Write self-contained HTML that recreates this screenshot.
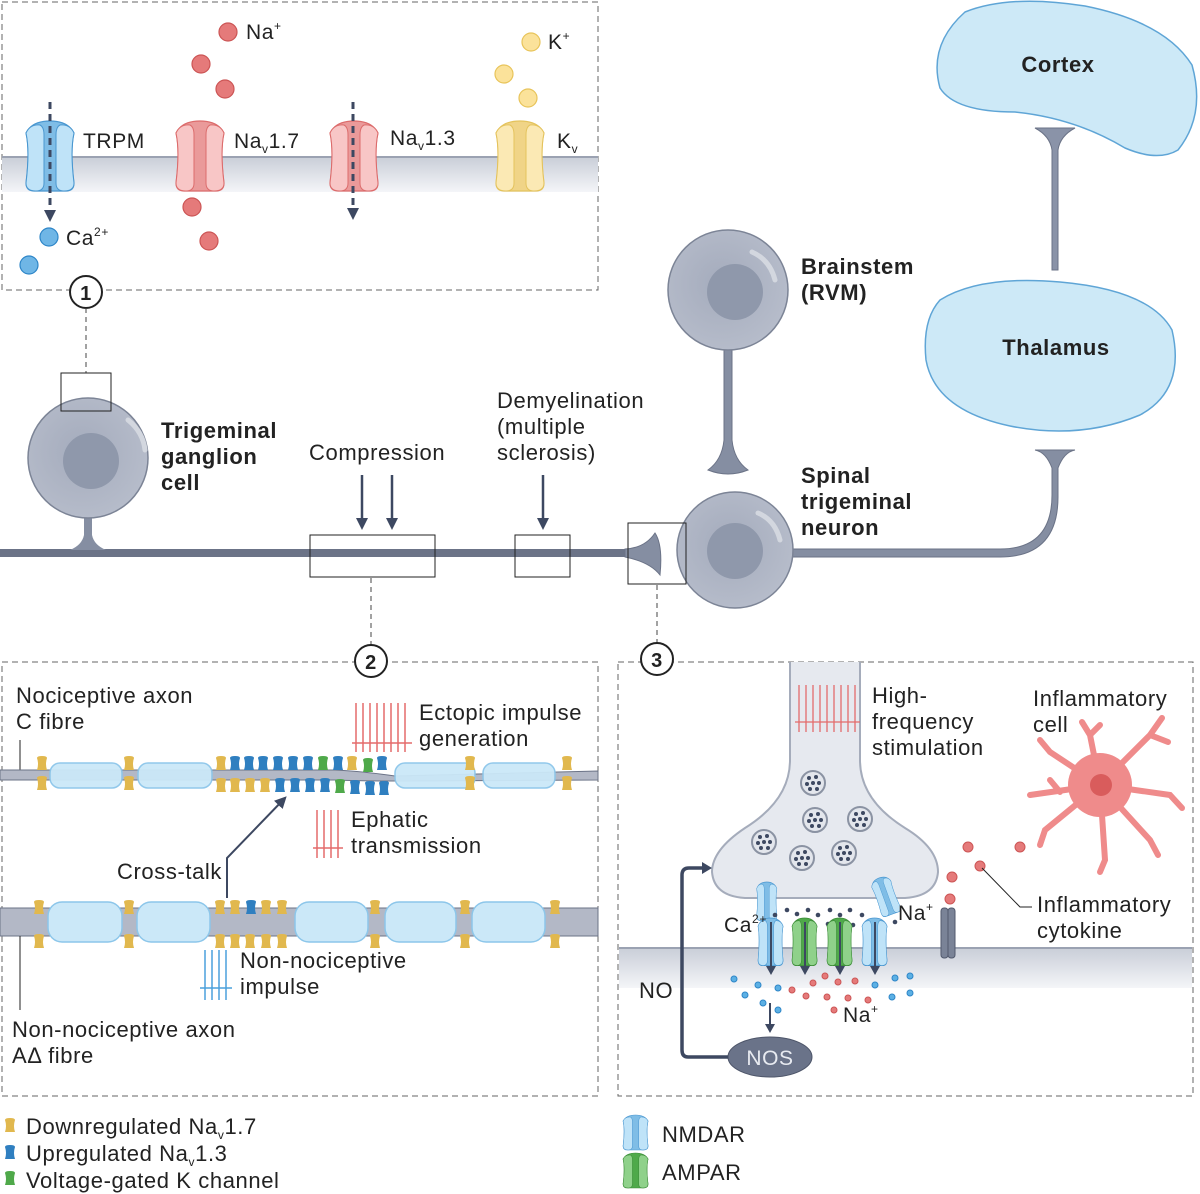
<!DOCTYPE html>
<html><head><meta charset="utf-8"><style>
html,body{margin:0;padding:0;background:#fff}
svg{display:block}
text{font-family:"Liberation Sans",sans-serif;fill:#222;letter-spacing:0.6px}
.b{font-weight:bold}
</style></head><body>
<svg width="1200" height="1194" viewBox="0 0 1200 1194" xmlns="http://www.w3.org/2000/svg">
<defs>
<linearGradient id="mem" x1="0" y1="0" x2="0" y2="1"><stop offset="0" stop-color="#c9ced8"/><stop offset="1" stop-color="#f4f5f8"/></linearGradient>
<radialGradient id="cell" cx="0.45" cy="0.45" r="0.6"><stop offset="0" stop-color="#a4abbc"/><stop offset="1" stop-color="#b7bdcb"/></radialGradient>
<marker id="ah" viewBox="0 0 10 10" refX="8" refY="5" markerWidth="6" markerHeight="6" orient="auto"><path d="M0,0 L10,5 L0,10 z" fill="#3d4861"/></marker>
<g id="chB"><path d="M4,12 Q10,0 28,0 Q46,0 52,12 Q48,30 52,62 Q52,70 44,70 L12,70 Q4,70 4,62 Q8,30 4,12Z" fill="#7fbde6" stroke="#4a97d0" stroke-width="1.2"/><path d="M4,12 Q8,3 18,4 Q22,6 22,14 L22,62 Q22,70 14,70 Q4,70 4,62 Q8,30 4,12Z M52,12 Q48,3 38,4 Q34,6 34,14 L34,62 Q34,70 42,70 Q52,70 52,62 Q48,30 52,12Z" fill="#bfe3f8" stroke="#4a97d0" stroke-width="1"/></g>
<g id="chR"><path d="M4,12 Q10,0 28,0 Q46,0 52,12 Q48,30 52,62 Q52,70 44,70 L12,70 Q4,70 4,62 Q8,30 4,12Z" fill="#ea9a9a" stroke="#dc6c6c" stroke-width="1.2"/><path d="M4,12 Q8,3 18,4 Q22,6 22,14 L22,62 Q22,70 14,70 Q4,70 4,62 Q8,30 4,12Z M52,12 Q48,3 38,4 Q34,6 34,14 L34,62 Q34,70 42,70 Q52,70 52,62 Q48,30 52,12Z" fill="#f8c6c6" stroke="#dc6c6c" stroke-width="1"/></g>
<g id="chY"><path d="M4,12 Q10,0 28,0 Q46,0 52,12 Q48,30 52,62 Q52,70 44,70 L12,70 Q4,70 4,62 Q8,30 4,12Z" fill="#f0d487" stroke="#e4c35d" stroke-width="1.2"/><path d="M4,12 Q8,3 18,4 Q22,6 22,14 L22,62 Q22,70 14,70 Q4,70 4,62 Q8,30 4,12Z M52,12 Q48,3 38,4 Q34,6 34,14 L34,62 Q34,70 42,70 Q52,70 52,62 Q48,30 52,12Z" fill="#fbe9b4" stroke="#e4c35d" stroke-width="1"/></g>
<g id="chG"><path d="M4,12 Q10,0 28,0 Q46,0 52,12 Q48,30 52,62 Q52,70 44,70 L12,70 Q4,70 4,62 Q8,30 4,12Z" fill="#4fa94a" stroke="#3b8c37" stroke-width="1.2"/><path d="M4,12 Q8,3 18,4 Q22,6 22,14 L22,62 Q22,70 14,70 Q4,70 4,62 Q8,30 4,12Z M52,12 Q48,3 38,4 Q34,6 34,14 L34,62 Q34,70 42,70 Q52,70 52,62 Q48,30 52,12Z" fill="#8fd18a" stroke="#3b8c37" stroke-width="1"/></g>
<path id="sm" d="M-5,0 Q-5,-2 0,-2 Q5,-2 5,0 Q3,6 5,12 L-5,12 Q-3,6 -5,0Z"/>
<g id="ves"><circle r="12" fill="#e3e6ec" stroke="#8b93a3" stroke-width="2"/><g fill="#3d4861"><circle cx="-4" cy="-5" r="2"/><circle cx="3" cy="-6" r="2"/><circle cx="-6" cy="1" r="2"/><circle cx="0" cy="0" r="2"/><circle cx="6" cy="0" r="2"/><circle cx="-3" cy="6" r="2"/><circle cx="4" cy="6" r="2"/></g></g>
</defs>

<!-- Box 1 -->
<rect x="2" y="2" width="596" height="288" fill="none" stroke="#666" stroke-dasharray="6,4" stroke-width="1"/>
<rect x="2" y="157" width="596" height="35" fill="url(#mem)"/>
<line x1="2" y1="157" x2="598" y2="157" stroke="#9ba2b2" stroke-width="2"/>
<use href="#chB" x="22" y="121"/>
<use href="#chR" x="172" y="121"/>
<use href="#chR" x="326" y="121"/>
<use href="#chY" x="492" y="121"/>
<line x1="50" y1="102" x2="50" y2="210" stroke="#3d4861" stroke-width="3" stroke-dasharray="7,5"/>
<path d="M44,210 L56,210 L50,222Z" fill="#3d4861"/>
<line x1="353" y1="102" x2="353" y2="210" stroke="#3d4861" stroke-width="3" stroke-dasharray="7,5"/>
<path d="M347,208 L359,208 L353,220Z" fill="#3d4861"/>
<g fill="#e57a7a" stroke="#cc5555" stroke-width="1.2"><circle cx="228" cy="32" r="9"/><circle cx="201" cy="64" r="9"/><circle cx="225" cy="89" r="9"/><circle cx="192" cy="207" r="9"/><circle cx="209" cy="241" r="9"/></g>
<g fill="#fbe29a" stroke="#e8c45a" stroke-width="1.2"><circle cx="531" cy="42" r="9"/><circle cx="504" cy="74" r="9"/><circle cx="528" cy="98" r="9"/></g>
<g fill="#6fb6e6" stroke="#2e86c8" stroke-width="1.2"><circle cx="49" cy="237" r="9"/><circle cx="29" cy="265" r="9"/></g>
<text x="246" y="39" font-size="21">Na<tspan font-size="12" dy="-9">+</tspan></text>
<text x="548" y="49" font-size="21">K<tspan font-size="12" dy="-9">+</tspan></text>
<text x="66" y="245" font-size="21">Ca<tspan font-size="12" dy="-9">2+</tspan></text>
<text x="83" y="148" font-size="21">TRPM</text>
<text x="234" y="148" font-size="21">Na<tspan font-size="12" dy="5">v</tspan><tspan dy="-5">1.7</tspan></text>
<text x="390" y="145" font-size="21">Na<tspan font-size="12" dy="5">v</tspan><tspan dy="-5">1.3</tspan></text>
<text x="557" y="148" font-size="21">K<tspan font-size="12" dy="5">v</tspan></text>
<circle cx="86" cy="292" r="16" fill="#fff" stroke="#222" stroke-width="2"/>
<text x="86" y="300" font-size="20" class="b" text-anchor="middle">1</text>
<line x1="86" y1="308" x2="86" y2="373" stroke="#444" stroke-dasharray="5,4"/>

<!-- Cortex / Thalamus -->
<path d="M965,12 Q1010,-6 1085,6 Q1165,22 1192,65 Q1206,115 1178,150 Q1158,162 1125,148 Q1075,118 1015,112 Q955,112 940,88 Q928,45 965,12Z" fill="#cde9f7" stroke="#5fa5d6" stroke-width="1.5"/>
<text x="1058" y="72" font-size="22" class="b" text-anchor="middle">Cortex</text>
<path d="M1035,128 L1075,128 Q1060,136 1058,150 L1058,270 L1052,270 L1052,150 Q1050,136 1035,128Z" fill="#8a93a8" stroke="#6b7387"/>
<path d="M940,300 Q980,275 1060,282 Q1150,290 1172,330 Q1186,390 1140,415 Q1080,440 1010,426 Q935,410 926,360 Q922,320 940,300Z" fill="#cde9f7" stroke="#5fa5d6" stroke-width="1.5"/>
<text x="1056" y="355" font-size="22" class="b" text-anchor="middle">Thalamus</text>

<!-- Axon -->
<rect x="0" y="549" width="645" height="8" fill="#6b7387"/>
<path d="M625,549 Q645,548 655,533 Q663,545 660,575 Q650,562 625,557Z" fill="#858ea2" stroke="#6b7387"/>
<path d="M790,549 L1000,549 Q1052,549 1052,495 L1052,468 Q1046,452 1035,450 L1075,450 Q1064,452 1058,468 L1058,497 Q1058,557 1000,557 L790,557Z" fill="#858ea2" stroke="#6b7387"/>
<!-- Trigeminal cell -->
<path d="M84,510 L84,535 Q82,545 70,550 L106,550 Q94,545 92,535 L92,510Z" fill="#858ea2"/>
<circle cx="88" cy="458" r="60" fill="url(#cell)" stroke="#7c8496" stroke-width="1.5"/>
<circle cx="91" cy="461" r="28" fill="#8f98ab"/>
<path d="M128,420 Q143,432 145,450" stroke="#d3d7df" stroke-width="5" fill="none" stroke-linecap="round"/>
<text class="b" font-size="22"><tspan x="161" y="438">Trigeminal</tspan><tspan x="161" y="464">ganglion</tspan><tspan x="161" y="490">cell</tspan></text>
<!-- Brainstem -->
<path d="M724,340 L724,440 Q722,460 708,470 Q728,478 748,470 Q734,460 732,440 L732,340Z" fill="#858ea2" stroke="#6b7387"/>
<circle cx="728" cy="290" r="60" fill="url(#cell)" stroke="#7c8496" stroke-width="1.5"/>
<circle cx="735" cy="292" r="28" fill="#8f98ab"/>
<path d="M752,252 Q770,260 775,280" stroke="#d3d7df" stroke-width="5" fill="none" stroke-linecap="round"/>
<text class="b" font-size="22"><tspan x="801" y="274">Brainstem</tspan><tspan x="801" y="300">(RVM)</tspan></text>
<!-- Spinal -->
<circle cx="735" cy="550" r="58" fill="url(#cell)" stroke="#7c8496" stroke-width="1.5"/>
<circle cx="735" cy="551" r="28" fill="#8f98ab"/>
<path d="M758,513 Q775,520 780,540" stroke="#d3d7df" stroke-width="5" fill="none" stroke-linecap="round"/>
<text class="b" font-size="22"><tspan x="801" y="483">Spinal</tspan><tspan x="801" y="509">trigeminal</tspan><tspan x="801" y="535">neuron</tspan></text>

<g fill="none" stroke="#222" stroke-width="1"><rect x="61" y="373" width="50" height="38"/><rect x="310" y="535" width="125" height="42"/><rect x="515" y="535" width="55" height="42"/><rect x="628" y="523" width="58" height="61"/></g>
<text x="309" y="460" font-size="22">Compression</text>
<text font-size="22"><tspan x="497" y="408">Demyelination</tspan><tspan x="497" y="434">(multiple</tspan><tspan x="497" y="460">sclerosis)</tspan></text>
<g stroke="#3d4861" stroke-width="2.5"><line x1="362" y1="475" x2="362" y2="520"/><line x1="392" y1="475" x2="392" y2="520"/><line x1="543" y1="475" x2="543" y2="520"/></g>
<g fill="#3d4861"><path d="M356,518 L368,518 L362,530Z"/><path d="M386,518 L398,518 L392,530Z"/><path d="M537,518 L549,518 L543,530Z"/></g>
<line x1="371" y1="578" x2="371" y2="645" stroke="#444" stroke-dasharray="5,4"/>
<line x1="657" y1="585" x2="657" y2="643" stroke="#444" stroke-dasharray="5,4"/>

<!-- Box 2 -->
<rect x="2" y="662" width="596" height="434" fill="none" stroke="#666" stroke-dasharray="6,4"/>
<circle cx="371" cy="661" r="16" fill="#fff" stroke="#222" stroke-width="2"/>
<text x="371" y="669" font-size="20" class="b" text-anchor="middle">2</text>
<text font-size="22"><tspan x="16" y="703">Nociceptive axon</tspan><tspan x="16" y="729">C fibre</tspan></text>
<line x1="20" y1="740" x2="20" y2="770" stroke="#222"/>
<path d="M0,770 L215,770 L335,770 Q360,771 395,776 L598,771 L598,780 L395,781 Q360,781 335,780 L0,780Z" fill="#b3b8c6" stroke="#6b7387"/>
<g fill="#cbe8f8" stroke="#8cc6ea" stroke-width="1.5" opacity="0.95"><rect x="50" y="763" width="72" height="25" rx="10"/><rect x="138" y="763" width="74" height="25" rx="10"/><rect x="395" y="763" width="80" height="25" rx="10"/><rect x="483" y="763" width="72" height="25" rx="10"/></g>
<g fill="#e1b84e">
<use href="#sm" x="42" y="758"/><use href="#sm" x="42" y="778"/>
<use href="#sm" x="129" y="758"/><use href="#sm" x="129" y="778"/>
<use href="#sm" x="221" y="758"/><use href="#sm" x="221" y="780"/>
<use href="#sm" x="352" y="758"/>
<use href="#sm" x="470" y="758"/><use href="#sm" x="470" y="778"/>
<use href="#sm" x="567" y="758"/><use href="#sm" x="567" y="778"/>
<use href="#sm" x="235" y="780"/><use href="#sm" x="250" y="780"/><use href="#sm" x="265" y="780"/>
</g>
<g fill="#2f7fc0">
<use href="#sm" x="235" y="758"/><use href="#sm" x="249" y="758"/><use href="#sm" x="263" y="758"/><use href="#sm" x="278" y="758"/><use href="#sm" x="293" y="758"/><use href="#sm" x="308" y="758"/><use href="#sm" x="338" y="758"/><use href="#sm" x="382" y="758"/>
<use href="#sm" x="280" y="780"/><use href="#sm" x="295" y="780"/><use href="#sm" x="310" y="780"/><use href="#sm" x="325" y="780"/><use href="#sm" x="355" y="782"/><use href="#sm" x="370" y="783"/><use href="#sm" x="384" y="783"/>
</g>
<g fill="#4fa94a"><use href="#sm" x="323" y="758"/><use href="#sm" x="368" y="760"/><use href="#sm" x="340" y="781"/></g>
<path d="M227,898 L227,858 L285,798" stroke="#3d4861" stroke-width="2" fill="none" marker-end="url(#ah)"/>
<text x="117" y="879" font-size="22">Cross-talk</text>
<g stroke="#e46b6b" stroke-width="1.5">
<line x1="356" y1="703" x2="356" y2="752"/><line x1="363" y1="703" x2="363" y2="752"/><line x1="370" y1="703" x2="370" y2="752"/><line x1="377" y1="703" x2="377" y2="752"/><line x1="384" y1="703" x2="384" y2="752"/><line x1="391" y1="703" x2="391" y2="752"/><line x1="398" y1="703" x2="398" y2="752"/><line x1="405" y1="703" x2="405" y2="752"/><line x1="352" y1="743" x2="412" y2="743"/>
<line x1="317" y1="810" x2="317" y2="858"/><line x1="324" y1="810" x2="324" y2="858"/><line x1="331" y1="810" x2="331" y2="858"/><line x1="338" y1="810" x2="338" y2="858"/><line x1="313" y1="848" x2="343" y2="848"/>
</g>
<text font-size="22"><tspan x="419" y="720">Ectopic impulse</tspan><tspan x="419" y="746">generation</tspan></text>
<text font-size="22"><tspan x="351" y="827">Ephatic</tspan><tspan x="351" y="853">transmission</tspan></text>
<rect x="0" y="908" width="598" height="28" fill="#b3b8c6" stroke="#6b7387"/>
<g fill="#cbe8f8" stroke="#8cc6ea" stroke-width="1.5"><rect x="48" y="902" width="74" height="40" rx="14"/><rect x="137" y="902" width="73" height="40" rx="14"/><rect x="295" y="902" width="73" height="40" rx="14"/><rect x="385" y="902" width="71" height="40" rx="14"/><rect x="472" y="902" width="73" height="40" rx="14"/></g>
<g fill="#e1b84e">
<use href="#sm" x="39" y="902"/><use href="#sm" x="39" y="936"/><use href="#sm" x="129" y="902"/><use href="#sm" x="129" y="936"/>
<use href="#sm" x="220" y="902"/><use href="#sm" x="235" y="902"/><use href="#sm" x="266" y="902"/><use href="#sm" x="282" y="902"/>
<use href="#sm" x="220" y="936"/><use href="#sm" x="235" y="936"/><use href="#sm" x="250" y="936"/><use href="#sm" x="266" y="936"/><use href="#sm" x="282" y="936"/>
<use href="#sm" x="375" y="902"/><use href="#sm" x="375" y="936"/><use href="#sm" x="465" y="902"/><use href="#sm" x="465" y="936"/><use href="#sm" x="555" y="902"/><use href="#sm" x="555" y="936"/>
</g>
<use href="#sm" x="251" y="902" fill="#2f7fc0"/>
<g stroke="#4aa0dc" stroke-width="1.5"><line x1="205" y1="950" x2="205" y2="1000"/><line x1="212" y1="950" x2="212" y2="1000"/><line x1="219" y1="950" x2="219" y2="1000"/><line x1="226" y1="950" x2="226" y2="1000"/><line x1="200" y1="988" x2="232" y2="988"/></g>
<text font-size="22"><tspan x="240" y="968">Non-nociceptive</tspan><tspan x="240" y="994">impulse</tspan></text>
<line x1="20" y1="936" x2="20" y2="1010" stroke="#222"/>
<text font-size="22"><tspan x="12" y="1037">Non-nociceptive axon</tspan><tspan x="12" y="1063">AΔ fibre</tspan></text>

<!-- Box 3 -->
<rect x="618" y="662" width="575" height="434" fill="none" stroke="#666" stroke-dasharray="6,4"/>
<rect x="619" y="948" width="573" height="40" fill="url(#mem)"/>
<line x1="619" y1="948" x2="1192" y2="948" stroke="#9ba2b2" stroke-width="2"/>
<path d="M790,662 L790,760 Q790,800 745,828 Q712,850 712,872 Q714,896 745,898 L905,898 Q936,896 938,872 Q938,848 905,828 Q860,800 860,760 L860,662" fill="#e6e9ef" stroke="#a5acbb" stroke-width="2"/>
<circle cx="657" cy="659" r="16" fill="#fff" stroke="#222" stroke-width="2"/>
<text x="657" y="667" font-size="20" class="b" text-anchor="middle">3</text>
<g stroke="#e46b6b" stroke-width="1.3"><line x1="799" y1="685" x2="799" y2="732"/><line x1="806" y1="685" x2="806" y2="732"/><line x1="813" y1="685" x2="813" y2="732"/><line x1="820" y1="685" x2="820" y2="732"/><line x1="827" y1="685" x2="827" y2="732"/><line x1="834" y1="685" x2="834" y2="732"/><line x1="841" y1="685" x2="841" y2="732"/><line x1="848" y1="685" x2="848" y2="732"/><line x1="855" y1="685" x2="855" y2="732"/><line x1="795" y1="722" x2="860" y2="722"/></g>
<text font-size="22"><tspan x="872" y="703">High-</tspan><tspan x="872" y="729">frequency</tspan><tspan x="872" y="755">stimulation</tspan></text>
<use href="#ves" x="813" y="783"/><use href="#ves" x="815" y="820"/><use href="#ves" x="860" y="819"/><use href="#ves" x="764" y="842"/><use href="#ves" x="802" y="858"/><use href="#ves" x="844" y="853"/>
<g transform="translate(755,882) scale(0.42,0.55)"><use href="#chB"/></g>
<g transform="translate(868,882) rotate(-20) scale(0.42,0.55)"><use href="#chB"/></g>
<g fill="#3d4861"><circle cx="775" cy="915" r="2.3"/><circle cx="787" cy="910" r="2.3"/><circle cx="797" cy="914" r="2.3"/><circle cx="808" cy="910" r="2.3"/><circle cx="818" cy="915" r="2.3"/><circle cx="830" cy="910" r="2.3"/><circle cx="840" cy="915" r="2.3"/><circle cx="850" cy="910" r="2.3"/><circle cx="862" cy="915" r="2.3"/><circle cx="797" cy="924" r="2.3"/><circle cx="828" cy="924" r="2.3"/><circle cx="853" cy="925" r="2.3"/><circle cx="895" cy="922" r="2.3"/><circle cx="870" cy="928" r="2.3"/></g>
<g transform="translate(756,918) scale(0.52,0.68)"><use href="#chB"/></g>
<g transform="translate(790,918) scale(0.52,0.68)"><use href="#chG"/></g>
<g transform="translate(825,918) scale(0.52,0.68)"><use href="#chG"/></g>
<g transform="translate(860,918) scale(0.52,0.68)"><use href="#chB"/></g>
<g stroke="#3d4861" stroke-width="2"><line x1="771" y1="922" x2="771" y2="968"/><line x1="805" y1="922" x2="805" y2="968"/><line x1="840" y1="922" x2="840" y2="968"/><line x1="875" y1="922" x2="875" y2="968"/><line x1="770" y1="1003" x2="770" y2="1025"/></g>
<g fill="#3d4861"><path d="M766,966 L776,966 L771,975Z"/><path d="M800,966 L810,966 L805,975Z"/><path d="M835,966 L845,966 L840,975Z"/><path d="M870,966 L880,966 L875,975Z"/><path d="M765,1024 L775,1024 L770,1033Z"/></g>
<g fill="#5cb0e4" stroke="#2e86c8" stroke-width="1"><circle cx="734" cy="979" r="3"/><circle cx="758" cy="985" r="3"/><circle cx="778" cy="988" r="3"/><circle cx="745" cy="995" r="3"/><circle cx="763" cy="1003" r="3"/><circle cx="778" cy="1010" r="3"/><circle cx="875" cy="985" r="3"/><circle cx="895" cy="978" r="3"/><circle cx="910" cy="976" r="3"/><circle cx="892" cy="997" r="3"/><circle cx="910" cy="993" r="3"/></g>
<g fill="#e57a7a" stroke="#cc5555" stroke-width="1"><circle cx="792" cy="990" r="3"/><circle cx="813" cy="983" r="3"/><circle cx="825" cy="976" r="3"/><circle cx="838" cy="982" r="3"/><circle cx="855" cy="981" r="3"/><circle cx="806" cy="996" r="3"/><circle cx="827" cy="997" r="3"/><circle cx="848" cy="998" r="3"/><circle cx="868" cy="1000" r="3"/><circle cx="834" cy="1010" r="3"/></g>
<ellipse cx="770" cy="1057" rx="42" ry="20" fill="#6a7389" stroke="#4d5569"/>
<text x="770" y="1065" font-size="21" text-anchor="middle" style="fill:#e8ebf1">NOS</text>
<path d="M728,1057 L688,1057 Q682,1057 682,1050 L682,875 Q682,868 689,868 L703,868" stroke="#3d4861" stroke-width="3.5" fill="none"/>
<path d="M702,862 L712,868 L702,874Z" fill="#3d4861"/>
<text x="639" y="998" font-size="22">NO</text>
<text x="724" y="932" font-size="21">Ca<tspan font-size="12" dy="-9">2+</tspan></text>
<text x="898" y="920" font-size="21">Na<tspan font-size="12" dy="-9">+</tspan></text>
<text x="843" y="1022" font-size="21">Na<tspan font-size="12" dy="-9">+</tspan></text>
<g fill="#7a8397" stroke="#525a6e" stroke-width="1"><rect x="941" y="908" width="7" height="50" rx="3"/><rect x="948" y="908" width="7" height="50" rx="3"/></g>
<g fill="#e57a7a" stroke="#cc5555" stroke-width="1"><circle cx="968" cy="847" r="5"/><circle cx="1020" cy="847" r="5"/><circle cx="980" cy="866" r="5"/><circle cx="952" cy="877" r="5"/><circle cx="950" cy="899" r="5"/></g>
<path d="M982,868 L1020,907 L1032,907" stroke="#222" fill="none"/>
<text font-size="22"><tspan x="1037" y="912">Inflammatory</tspan><tspan x="1037" y="938">cytokine</tspan></text>
<text font-size="22"><tspan x="1033" y="706">Inflammatory</tspan><tspan x="1033" y="732">cell</tspan></text>
<g stroke="#ef8b8b" stroke-width="6" stroke-linecap="round" fill="none">
<path d="M1100,785 L1150,735 L1162,718 M1150,735 L1168,742"/>
<path d="M1100,785 L1090,735 L1082,722 M1090,735 L1100,725"/>
<path d="M1100,785 L1050,752 L1040,740"/>
<path d="M1100,785 L1030,795 M1060,792 L1050,780"/>
<path d="M1100,785 L1045,830 L1040,845"/>
<path d="M1100,785 L1105,860 L1100,872"/>
<path d="M1100,785 L1150,840 L1158,855"/>
<path d="M1100,785 L1170,795 L1182,808"/>
</g>
<circle cx="1100" cy="785" r="32" fill="#ef8b8b"/>
<circle cx="1101" cy="785" r="11" fill="#d95c5c"/>

<!-- Legend -->
<use href="#sm" x="10" y="1120" fill="#e1b84e"/>
<use href="#sm" x="10" y="1147" fill="#2f7fc0"/>
<use href="#sm" x="10" y="1173" fill="#4fa94a"/>
<text x="26" y="1134" font-size="22">Downregulated Na<tspan font-size="12" dy="5">v</tspan><tspan dy="-5">1.7</tspan></text>
<text x="26" y="1161" font-size="22">Upregulated Na<tspan font-size="12" dy="5">v</tspan><tspan dy="-5">1.3</tspan></text>
<text x="26" y="1188" font-size="22">Voltage-gated K channel</text>
<g transform="translate(621,1115) scale(0.52,0.5)"><use href="#chB"/></g>
<g transform="translate(621,1153) scale(0.52,0.5)"><use href="#chG"/></g>
<text x="662" y="1142" font-size="22">NMDAR</text>
<text x="662" y="1180" font-size="22">AMPAR</text>
</svg>
</body></html>
